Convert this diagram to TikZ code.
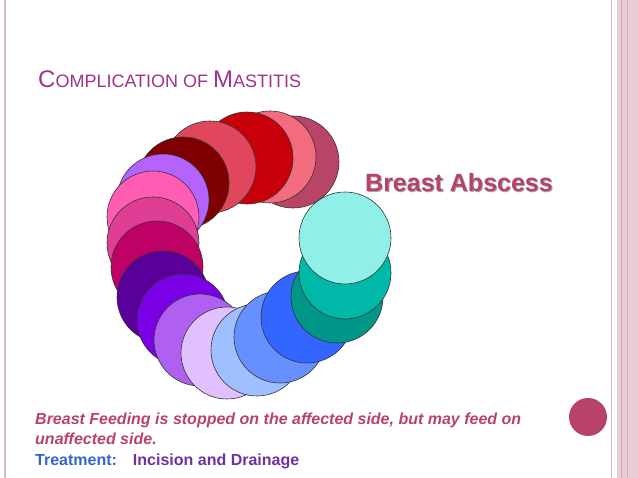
\documentclass[tikz,border=0pt]{standalone}
\usepackage{fontspec}
\setmainfont{Liberation Sans}
\begin{document}
\begin{tikzpicture}[x=1pt,y=-1pt,
  disc/.style={draw=black!80,line width=0.6pt},
  txt/.style={inner sep=0pt,anchor=base west}]
\definecolor{rose}{RGB}{184,66,106}
\definecolor{band}{RGB}{222,184,196}
\definecolor{titlec}{RGB}{160,50,140}
\useasboundingbox (0,0) rectangle (638,478);
\fill[white] (0,0) rectangle (638,478);
% borders
\draw[band,line width=1.5pt] (5,0) -- (5,478);
\draw[band,line width=1.5pt] (611.5,0) -- (611.5,478);
\fill[band!70] (617,0) rectangle (638,478);
\draw[band!120,line width=1pt] (621,0) -- (621,478);
\draw[band!120,line width=0.8pt] (627,0) -- (627,478);
% title
\node[txt,text=titlec] (title) at (38,88) {\fontsize{24}{24}\selectfont C\fontsize{18}{18}\selectfont OMPLICATION OF \fontsize{24}{24}\selectfont M\fontsize{18}{18}\selectfont ASTITIS};
% spiral
\foreach \x/\y/\c [count=\i] in {
 293/162/{184,68,104}, 270/157/{242,107,126}, 247/158/{200,0,10},
 210/167/{224,71,93}, 183/183/{127,0,0}, 163/200/{181,99,255},
 153/217/{255,92,180}, 153/243/{223,62,149}, 157/267/{191,0,100},
 163/297/{88,0,153}, 183/320/{122,0,230}, 200/340/{176,96,240},
 227/353/{224,192,255}, 257/350/{160,191,255}, 280/337/{102,144,255},
 307/317/{51,102,255}, 337/297/{0,150,136}, 345/273/{0,184,168},
 345/238/{144,240,232}}
 { \definecolor{cc\i}{RGB}{\c}
   \draw[disc,fill=cc\i] (\x,\y) circle[radius=46]; }
% label
\node[txt,text=black!35] at (366,193) {\fontsize{25}{25}\selectfont\bfseries Breast Abscess};
\node[txt,text=rose] (abs) at (365,192) {\fontsize{25}{25}\selectfont\bfseries Breast Abscess};
% bottom text
\node[txt,text=rose] (l1) at (35,425) {\fontsize{16}{16}\selectfont\bfseries\itshape Breast Feeding is stopped on the affected side, but may feed on};
\node[txt,text=rose] (l2) at (35,445) {\fontsize{16}{16}\selectfont\bfseries\itshape unaffected side.};
\node[txt] (l3) at (35,466) {\fontsize{16}{16}\selectfont\bfseries\textcolor[RGB]{51,102,204}{Treatment:}\quad\textcolor[RGB]{112,48,160}{Incision and Drainage}};
\fill[rose] (588,417) circle[radius=19];
\end{tikzpicture}
\end{document}
